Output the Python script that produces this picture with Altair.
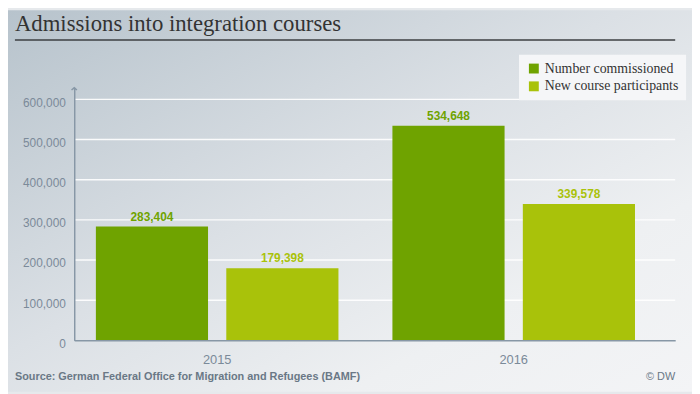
import altair as alt
import pandas as pd

years = ["2015", "2016"]
series = ["Number commissioned", "New course participants"]
number_commissioned = [283404, 534648]
new_participants = [179398, 339578]
colors = ["#6fa300", "#a9c20a"]
y_ticks = [0, 100000, 200000, 300000, 400000, 500000, 600000]

title_text = "Admissions into integration courses"
source_text = "Source: German Federal Office for Migration and Refugees (BAMF)"
credit_text = "© DW"

rows = []
for i, yr in enumerate(years):
    rows.append({"year": yr, "series": series[0], "value": number_commissioned[i]})
    rows.append({"year": yr, "series": series[1], "value": new_participants[i]})
df = pd.DataFrame(rows)
grid_df = pd.DataFrame({"value": y_ticks[1:]})

W, H = 608, 256
PAD = {"left": 67, "top": 78, "right": 17, "bottom": 52}

axis_col = "#8797a6"
label_col = "#7b8a99"

x_enc = alt.X("year:N", sort=years, title=None,
              scale=alt.Scale(paddingInner=0.182, paddingOuter=0.1043, align=0.35),
              axis=alt.Axis(labelAngle=0, labelFont="Liberation Sans", labelFontSize=13,
                            labelColor=label_col, labelPadding=13, ticks=False,
                            domainColor=axis_col, domainWidth=1.5, grid=False, zindex=1))
xo_enc = alt.XOffset("series:N", sort=series, scale=alt.Scale(paddingInner=0.14, paddingOuter=0))
y_scale = alt.Scale(domain=[0, 630000], nice=False)
y_axis = alt.Axis(values=y_ticks, format=",.0f", labelFont="Liberation Sans",
                  labelFontSize=12, labelColor=label_col, labelPadding=9,
                  labelOffset=3, ticks=False, domainColor=axis_col, domainWidth=1.5,
                  grid=False, zindex=1)
y_enc = alt.Y("value:Q", title=None, scale=y_scale, axis=y_axis)
color_enc = alt.Color("series:N", sort=series,
                      scale=alt.Scale(domain=series, range=colors),
                      legend=alt.Legend(title=None, orient="none", legendX=450, legendY=-33,
                                        symbolType="square", symbolSize=100, symbolStrokeWidth=0,
                                        labelFont="Liberation Serif", labelFontSize=14,
                                        labelColor="#333333", padding=7, rowPadding=4,
                                        fillColor="#f5f6f8", symbolOffset=1))

one = pd.DataFrame({"a": [0]})

bg = alt.Chart(one).mark_rect(
    clip=False,
    fill=alt.LinearGradient(gradient="linear", x1=0, y1=0, x2=1, y2=1,
                            stops=[alt.GradientStop(offset=0, color="#b7c3cc"),
                                   alt.GradientStop(offset=0.45, color="#dbe0e5"),
                                   alt.GradientStop(offset=0.75, color="#eef0f2"),
                                   alt.GradientStop(offset=1, color="#f3f4f6")])
).encode(x=alt.value(-67), x2=alt.value(625), y=alt.value(-78), y2=alt.value(308))

gridlines = alt.Chart(grid_df).mark_rule(color="#ffffff", strokeWidth=1.5, opacity=0.9).encode(
    y=y_enc)

title = alt.Chart(one).mark_text(
    text=title_text, font="Liberation Serif", fontSize=23, color="#333333",
    align="left", baseline="alphabetic", clip=False
).encode(x=alt.value(-60), y=alt.value(-57))

underline = alt.Chart(one).mark_rule(color="#3c3f42", strokeWidth=1.5, clip=False).encode(
    x=alt.value(-60), x2=alt.value(608), y=alt.value(-48))

source = alt.Chart(one).mark_text(
    text=source_text, font="Liberation Sans", fontSize=11, fontWeight="bold", color="#6a7886",
    align="left", baseline="alphabetic", clip=False
).encode(x=alt.value(-60), y=alt.value(296))

credit = alt.Chart(one).mark_text(
    text=credit_text, font="Liberation Sans", fontSize=11, color="#6a7886",
    align="right", baseline="alphabetic", clip=False
).encode(x=alt.value(608), y=alt.value(296))

arrow = alt.Chart(one).mark_point(
    shape="M-1,0.8L0,0L1,0.8", filled=False, size=30, color=axis_col, strokeWidth=1.5,
    opacity=1, clip=False
).encode(x=alt.value(0), y=alt.value(0.5))

bars = alt.Chart(df).mark_bar().encode(
    x=x_enc, xOffset=xo_enc, y=y_enc, color=color_enc)

labels = alt.Chart(df).mark_text(
    font="Liberation Sans", fontSize=12, fontWeight="bold", baseline="alphabetic", dy=-6
).encode(x=x_enc, xOffset=xo_enc, y=y_enc,
         text=alt.Text("value:Q", format=",.0f"),
         color=alt.Color("series:N", sort=series, scale=alt.Scale(domain=series, range=colors),
                         legend=None))

chart = alt.layer(bg, gridlines, title, underline, source, credit, bars, labels, arrow).properties(
    width=W, height=H, padding=PAD, autosize=alt.AutoSizeParams(type="none"),
    background="#e6e9ec"
).configure_view(stroke=None)

chart.save("out.html", embed_options={"renderer": "svg", "actions": False})
